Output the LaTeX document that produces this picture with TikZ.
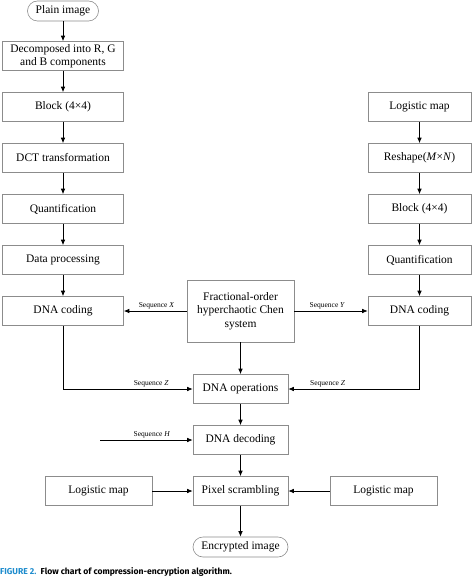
\documentclass[tikz,border=0pt]{standalone}
\usepackage{fontspec}
\setmainfont{Liberation Serif}
\newfontfamily\capfont{Fira Sans}
\usetikzlibrary{arrows.meta, positioning}
\definecolor{capblue}{RGB}{30,140,205}

\begin{document}
\begin{tikzpicture}[x=1pt, y=-1pt,
  every node/.style={font=\fontsize{11.5}{13.5}\selectfont},
  box/.style={draw=black!45, line width=0.6pt, minimum height=29pt, inner sep=2pt, align=center},
  term/.style={draw=black!45, line width=0.6pt, rounded corners=10pt, minimum height=20pt, inner sep=2pt},
  seq/.style={font=\fontsize{7.5}{9}\selectfont, inner sep=1.5pt},
  arr/.style={-{Latex[length=5.5pt, width=4.5pt]}, line width=0.7pt}]
    \useasboundingbox (0,0) rectangle (474,577);
    % left column
    \node[term, minimum width=71pt] (plain) at (63, 11) {Plain image};
    \node[box, minimum width=121pt] (rgb) at (63, 56) {Decomposed into R, G\\and B components};
    \node[box, minimum width=121pt] (blockL) at (63, 107) {Block (4×4)};
    \node[box, minimum width=121pt] (dct) at (63, 158) {DCT transformation};
    \node[box, minimum width=121pt] (quantL) at (63, 209) {Quantification};
    \node[box, minimum width=121pt] (data) at (63, 260) {Data processing};
    \node[box, minimum width=121pt] (codeL) at (63, 311) {DNA coding};
    % right column
    \node[box, minimum width=103pt] (logTop) at (419.5, 107) {Logistic map};
    \node[box, minimum width=103pt] (reshape) at (419.5, 158) {Reshape(\textit{M}×\textit{N})};
    \node[box, minimum width=103pt] (blockR) at (419.5, 209) {Block (4×4)};
    \node[box, minimum width=103pt] (quantR) at (419.5, 260) {Quantification};
    \node[box, minimum width=103pt] (codeR) at (419.5, 311) {DNA coding};
    % middle
    \node[box, minimum width=107pt, minimum height=62pt] (chen) at (240.5, 311) {Fractional-order\\hyperchaotic Chen\\system};
    \node[box, minimum width=95pt] (ops) at (240.5, 389) {DNA operations};
    \node[box, minimum width=95pt] (dec) at (240.5, 440) {DNA decoding};
    \node[box, minimum width=95pt] (scr) at (240.5, 491) {Pixel scrambling};
    \node[box, minimum width=107pt] (logL) at (98.5, 491) {Logistic map};
    \node[box, minimum width=107pt] (logR) at (383.5, 491) {Logistic map};
    \node[term, minimum width=95pt] (enc) at (240.5, 547) {Encrypted image};
    \coordinate (hin) at (100, 440);

    \foreach \a/\b in {plain/rgb, rgb/blockL, blockL/dct, dct/quantL, quantL/data, data/codeL,
                       logTop/reshape, reshape/blockR, blockR/quantR, quantR/codeR,
                       chen/ops, ops/dec, dec/scr, scr/enc, logL/scr, logR/scr}
        \draw[arr] (\a) -- (\b);
    \draw[arr] (chen) -- node[seq, above, pos=0.48] {Sequence \textit{X}} (codeL);
    \draw[arr] (chen) -- node[seq, above, pos=0.45] {Sequence \textit{Y}} (codeR);
    \draw[arr] (codeL) |- node[seq, above, pos=0.84] {Sequence \textit{Z}} (ops);
    \draw[arr] (codeR) |- node[seq, above, pos=0.85] {Sequence \textit{Z}} (ops);
    \draw[arr] (hin) -- node[seq, above, pos=0.56] {Sequence \textit{H}} (dec);

    \node[anchor=west, inner sep=0pt, font=\capfont\bfseries\fontsize{8.6}{10}\selectfont] (caption) at (0, 572)
        {\textcolor{capblue}{FIGURE 2.}\enspace Flow chart of compression-encryption algorithm.};
\end{tikzpicture}
\end{document}
